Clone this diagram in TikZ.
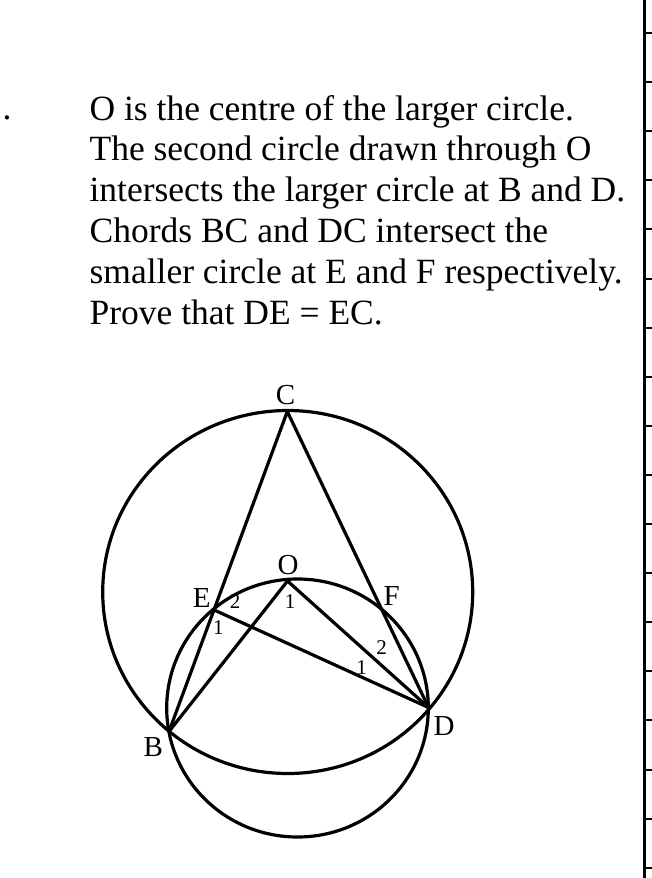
\documentclass[tikz,border=0pt]{standalone}
\usepackage{fontspec}
\setmainfont{Liberation Serif}
\usepackage{tikz}
\usetikzlibrary{calc}

\begin{document}
\begin{tikzpicture}[x=1pt, y=-1pt, line width=3.2pt, line join=round, inner sep=0pt,
    txt/.style={anchor=base west, font=\fontsize{35.5}{41}\selectfont},
    lbl/.style={font=\fontsize{29}{29}\selectfont},
    ang/.style={font=\fontsize{21}{21}\selectfont}]
  \useasboundingbox (0,0) rectangle (652,878);

  % question text
  \node [txt] (dot) at (1,119) {.};
  \foreach \t [count=\i] in {O is the centre of the larger circle.,
      The second circle drawn through O,
      intersects the larger circle at B and D.,
      Chords BC and DC intersect the,
      smaller circle at E and F respectively.,
      Prove that DE = EC.}
    \node [txt] (line\i) at (88,{120+40.8*(\i-1)}) {\t};

  % ruled margin on the right
  \draw [line width=3pt] (644,0) -- (644,878);
  \foreach \k in {0,...,17}
    \draw [line width=2pt] (644,{33+49.1*\k}) -- (652,{33+49.1*\k});

  % points
  \coordinate (O) at (287.5,581);
  \coordinate (C) at (287.3,411.5);
  \coordinate (B) at (169,731.5);
  \coordinate (D) at (428.5,707.5);
  \coordinate (E) at ($(B)!0.38!(C)$);
  \coordinate (F) at ($(D)!0.343!(C)$);
  \coordinate (big) at (287.7,592);
  \coordinate (small) at (297.5,708);

  % circles
  \draw (big) ellipse [x radius=185pt, y radius=181.5pt];
  \draw (small) ellipse [x radius=130.8pt, y radius=129pt];

  % chords
  \draw (B) -- (C) -- (D);
  \draw (B) -- (O) -- (D);
  \draw (E) -- (D);

  % labels
  \node [lbl] (lC) at (285.5,395) {C};
  \node [lbl] (lO) at (288,565) {O};
  \node [lbl] (lE) at (201.7,598.3) {E};
  \node [lbl] (lF) at (391.7,596) {F};
  \node [lbl] (lD) at (444,725.7) {D};
  \node [lbl] (lB) at (153.3,746.7) {B};

  \node [ang] (e2) at (235,601.7) {2};
  \node [ang] (e1) at (218.3,627.3) {1};
  \node [ang] (o1) at (290,601.7) {1};
  \node [ang] (d2) at (381.7,647.3) {2};
  \node [ang] (d1) at (361.7,667.3) {1};
\end{tikzpicture}
\end{document}
